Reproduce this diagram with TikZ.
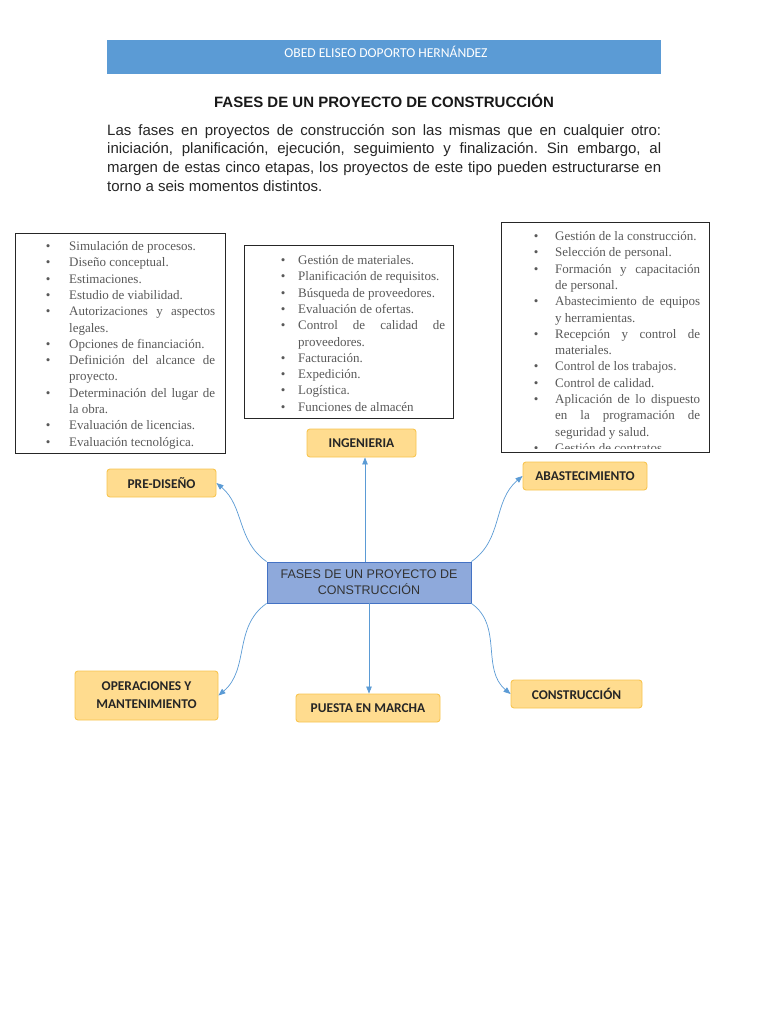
\documentclass[tikz,border=0pt]{standalone}
\usepackage{fontspec}
\setmainfont{Liberation Sans}
\newfontfamily\calibrifont{Carlito}
\newfontfamily\listfamily{Liberation Serif}
\usepackage{enumitem}
\usetikzlibrary{arrows.meta,positioning,calc}

\definecolor{headblue}{HTML}{5B9BD5}
\definecolor{phasefill}{HTML}{FFDC8F}
\definecolor{phaseborder}{HTML}{F8C550}
\definecolor{corefill}{HTML}{8EA9DB}
\definecolor{coreborder}{HTML}{4472C4}
\definecolor{linkblue}{HTML}{5B9BD5}
\definecolor{itemgray}{HTML}{595959}

\setlist[itemize]{label=\makebox[4pt][c]{\textbullet}, labelwidth=4pt, labelindent=0pt, align=left, itemsep=0pt, topsep=0pt, parsep=0pt, partopsep=0pt}
\hyphenpenalty=10000
\exhyphenpenalty=10000
\frenchspacing

\begin{document}
\begin{tikzpicture}[x=1pt,y=-1pt,
	phase/.style={rectangle, rounded corners=3pt, draw=phaseborder, fill=phasefill, line width=0.9pt, minimum height=28pt, font=\calibrifont\bfseries\fontsize{13.4}{18}\selectfont, text=black!85, align=center},
	listbox/.style={rectangle, draw=black!85, line width=0.8pt},
	listtext/.style={anchor=north west, inner sep=0pt, align=justify, text=itemgray, font=\listfamily\fontsize{13}{16.3}\selectfont},
	link/.style={-{Triangle[length=7pt,width=5.5pt]}, draw=linkblue, line width=0.7pt}]

	% Page
	\fill[white] (0,0) rectangle (768,1024);
	\useasboundingbox (0,0) rectangle (768,1024);

	% Header and title
	\node[rectangle, fill=headblue, minimum width=554pt, minimum height=34pt] (header) at (384,57) {};
	\node[font=\calibrifont\fontsize{13.6}{16}\selectfont, text=white] (author) at (386,52) {OBED ELISEO DOPORTO HERNÁNDEZ};
	\node[font=\bfseries\fontsize{15}{18}\selectfont, text=black!90] (title) at (384,101) {FASES DE UN PROYECTO DE CONSTRUCCIÓN};
	\node[anchor=north west, inner sep=0pt, text width=554pt, align=justify, font=\fontsize{15}{18.7}\selectfont, text=black!85] (intro) at (107,124) {Las fases en proyectos de construcción son las mismas que en cualquier otro:\linebreak
		iniciación, planificación, ejecución, seguimiento y finalización. Sin embargo, al\linebreak
		margen de estas cinco etapas, los proyectos de este tipo pueden estructurarse en\linebreak
		torno a seis momentos distintos.};

	% List boxes
	\node[listbox, minimum width=210pt, minimum height=220pt] (prebox) at (120,343) {};
	\node[listbox, minimum width=209pt, minimum height=173pt] (ingbox) at (348.5,331.5) {};
	\node[listbox, minimum width=208pt, minimum height=230pt] (consbox) at (605,337) {};

	\node[listtext, text width=169pt] (prelist) at (46,234) {%
		\begin{itemize}[leftmargin=23pt, labelsep=19pt]
			\item Simulación de procesos.
			\item Diseño conceptual.
			\item Estimaciones.
			\item Estudio de viabilidad.
			\item Autorizaciones y aspectos\linebreak legales.
			\item Opciones de financiación.
			\item Definición del alcance de\linebreak proyecto.
			\item Determinación del lugar de\linebreak la obra.
			\item Evaluación de licencias.
			\item Evaluación tecnológica.
		\end{itemize}};

	\node[listtext, text width=164pt] (inglist) at (281,248) {%
		\begin{itemize}[leftmargin=17pt, labelsep=13pt]
			\item Gestión de materiales.
			\item Planificación de requisitos.
			\item Búsqueda de proveedores.
			\item Evaluación de ofertas.
			\item Control de calidad de\linebreak proveedores.
			\item Facturación.
			\item Expedición.
			\item Logística.
			\item Funciones de almacén
		\end{itemize}};

	\begin{scope}
		\clip ($(consbox.north west)+(0,1)$) rectangle ($(consbox.south east)+(0,-3.5)$);
		\node[listtext, text width=166pt] (conslist) at (534,224) {%
			\begin{itemize}[leftmargin=21pt, labelsep=17pt]
				\item Gestión de la construcción.
				\item Selección de personal.
				\item Formación y capacitación\linebreak de personal.
				\item Abastecimiento de equipos\linebreak y herramientas.
				\item Recepción y control de\linebreak materiales.
				\item Control de los trabajos.
				\item Control de calidad.
				\item Aplicación de lo dispuesto\linebreak en la programación de\linebreak seguridad y salud.
				\item Gestión de contratos.
			\end{itemize}};
	\end{scope}

	% Central node
	\node[rectangle, draw=coreborder, fill=corefill, line width=0.9pt, minimum width=204pt, minimum height=41pt, align=center, font=\fontsize{12.5}{16}\selectfont, text=black!80] (core) at (369,582.5) {FASES DE UN PROYECTO DE\\CONSTRUCCIÓN};

	% Phases
	\node[phase, minimum width=109pt] (ing) at (361.5,443) {INGENIERIA};
	\node[phase, minimum width=109pt] (pre) at (161.5,483) {PRE-DISEÑO};
	\node[phase, minimum width=124pt] (abas) at (585,476) {ABASTECIMIENTO};
	\node[phase, minimum width=143pt, minimum height=49pt] (oper) at (146.5,695.5) {OPERACIONES Y\\MANTENIMIENTO};
	\node[phase, minimum width=144pt] (puesta) at (368,708) {PUESTA EN MARCHA};
	\node[phase, minimum width=131pt] (cons) at (576.5,694) {CONSTRUCCIÓN};

	% Arrows
	\coordinate (tophub) at ($(core.north)+(-4,0)$);
	\draw[link] (tophub) -- (tophub |- ing.south);
	\draw[link] (core.south) -- (core.south |- puesta.north);
	\draw[link] (core.north west) to[out=145,in=-40] (pre.east);
	\draw[link] (core.north east) to[out=35,in=-140] (abas.west);
	\draw[link] (core.south west) to[out=-145,in=40] (oper.east);
	\draw[link] (core.south east) to[out=-35,in=140] (cons.west);

\end{tikzpicture}
\end{document}
